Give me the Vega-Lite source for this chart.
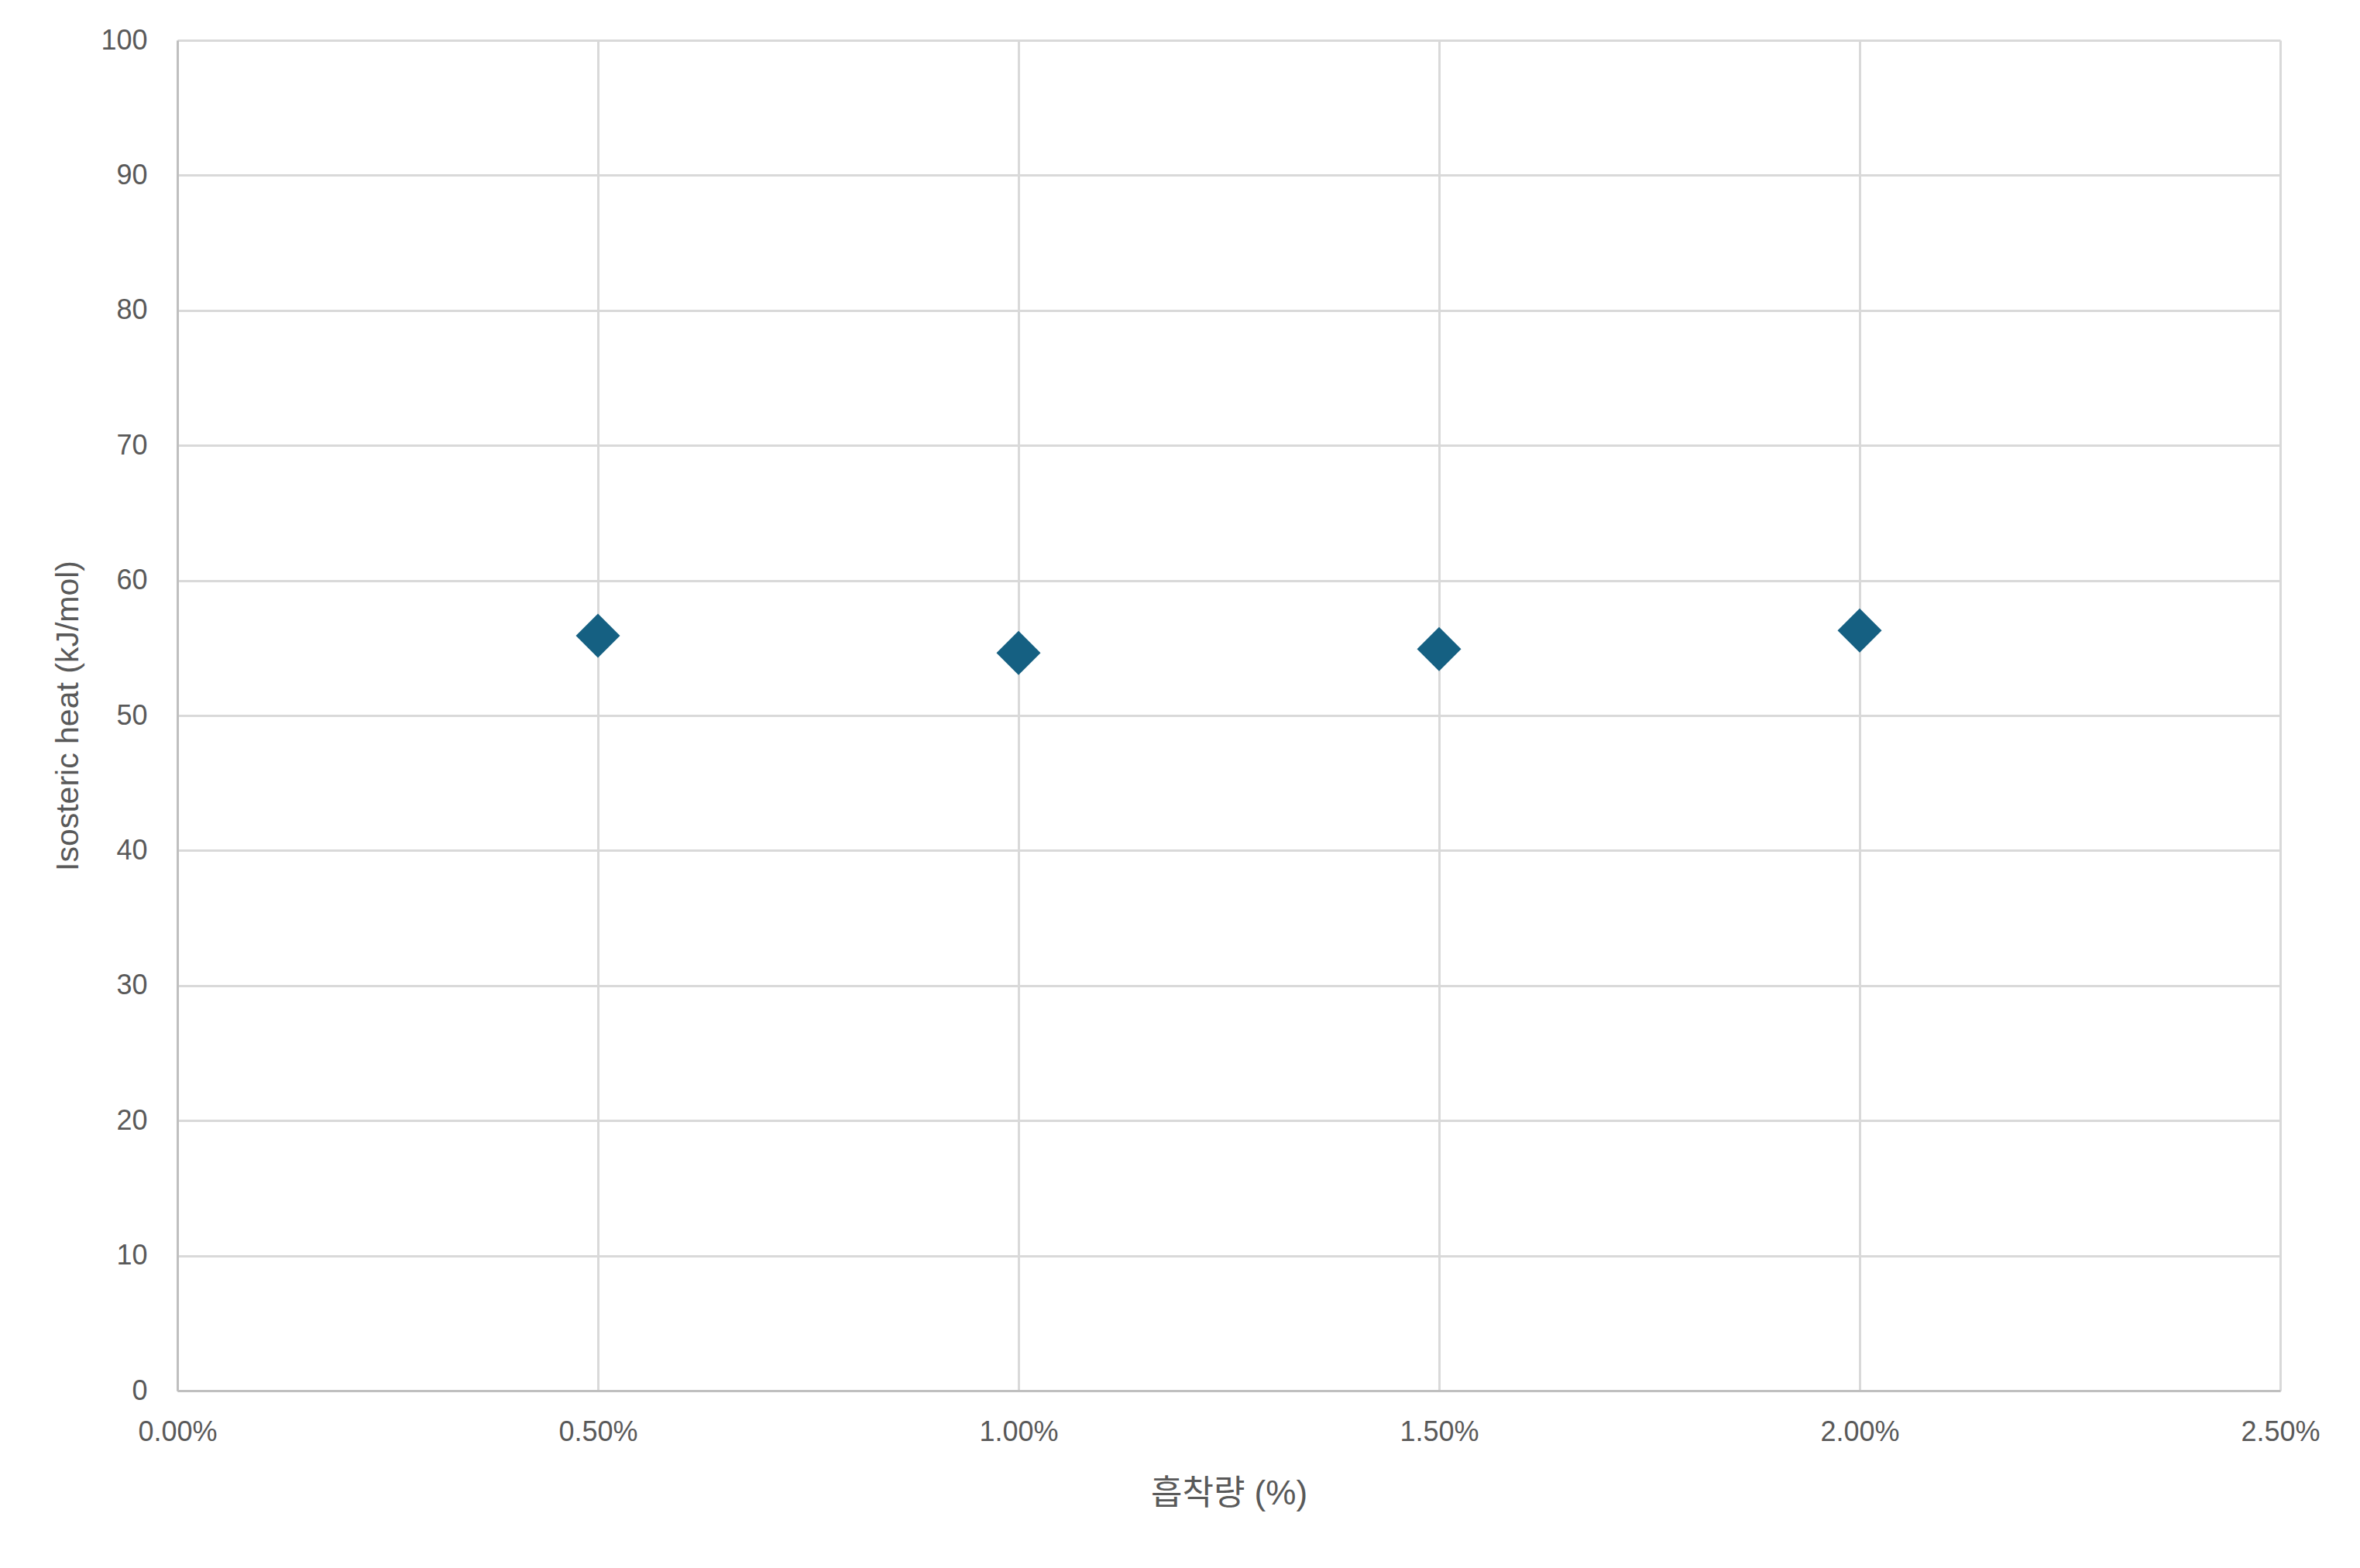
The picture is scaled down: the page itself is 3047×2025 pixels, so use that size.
{
  "$schema": "https://vega.github.io/schema/vega-lite/v6.json",
  "autosize": {"type": "none"},
  "width": 2715,
  "height": 1744,
  "padding": {"left": 229, "top": 52, "right": 103, "bottom": 229},
  "background": "#ffffff",
  "data": {
    "values": [
      {"adsorption": 0.005, "heat": 55.9},
      {"adsorption": 0.010, "heat": 54.63},
      {"adsorption": 0.015, "heat": 54.91},
      {"adsorption": 0.020, "heat": 56.29}
    ]
  },
  "mark": {
    "type": "point",
    "shape": "diamond",
    "filled": true,
    "size": 3249,
    "color": "#156082",
    "opacity": 1
  },
  "encoding": {
    "x": {
      "field": "adsorption",
      "type": "quantitative",
      "scale": {"domain": [0, 0.025], "nice": false, "zero": true},
      "axis": {
        "title": "흡착량 (%)",
        "format": ".2%",
        "values": [0, 0.005, 0.01, 0.015, 0.02, 0.025],
        "labelPadding": 36,
        "titlePadding": 40,
        "titleFontSize": 44,
        "labelFlush": false
      }
    },
    "y": {
      "field": "heat",
      "type": "quantitative",
      "scale": {"domain": [0, 100], "nice": false},
      "axis": {
        "title": "Isosteric heat (kJ/mol)",
        "values": [0, 10, 20, 30, 40, 50, 60, 70, 80, 90, 100],
        "labelPadding": 39,
        "titlePadding": 20,
        "titleFontSize": 41
      }
    }
  },
  "config": {
    "view": {"stroke": null},
    "font": "Liberation Sans, Noto Sans CJK KR",
    "axis": {
      "labelFont": "Liberation Sans, Noto Sans CJK KR",
      "titleFont": "Liberation Sans, Noto Sans CJK KR",
      "labelFontSize": 36,
      "labelColor": "#595959",
      "titleColor": "#595959",
      "titleFontWeight": "normal",
      "ticks": false,
      "tickSize": 0,
      "grid": true,
      "gridColor": "#d9d9d9",
      "gridWidth": 3,
      "domainColor": "#bfbfbf",
      "domainWidth": 3
    }
  }
}
